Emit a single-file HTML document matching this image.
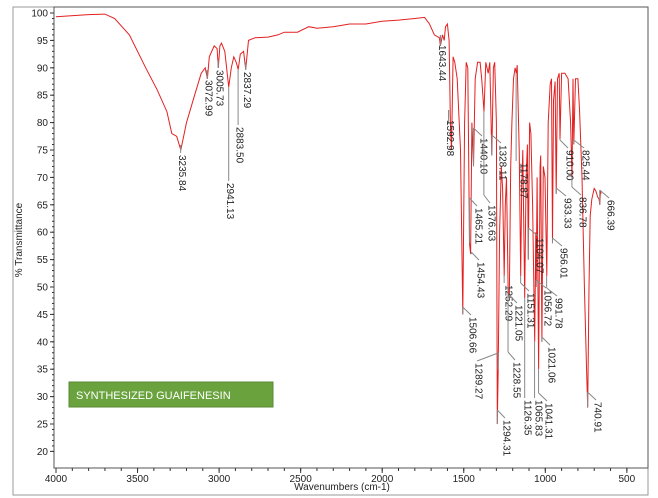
<!DOCTYPE html>
<html><head><meta charset="utf-8"><style>
body{margin:0;background:#fff;}
svg{display:block;font-family:"Liberation Sans",Arial,sans-serif;}
</style></head><body>
<svg id="s" width="658" height="498" xmlns="http://www.w3.org/2000/svg">
<rect x="13" y="7" width="635" height="488" fill="none" stroke="#999" stroke-width="1"/>
<rect x="54" y="7" width="594" height="461" fill="#fff" stroke="#555" stroke-width="1"/>
<text transform="translate(22,240) rotate(-90)" font-size="10" text-anchor="middle" fill="#222">% Transmittance</text>
<text x="342" y="490" font-size="10" text-anchor="middle" fill="#222">Wavenumbers (cm-1)</text>
<rect x="69" y="382" width="204" height="25" fill="#6aa33d" stroke="#5a8a33"/>
<text x="76" y="399" font-size="11" fill="#fff">SYNTHESIZED GUAIFENESIN</text>
<g id="g"></g>
</svg>
<script>
const X=w=>56+(4000-w)*0.1631, Y=t=>13+(100-t)*5.48;
const g=document.getElementById('g');let h='';
for(let t=20;t<=100;t+=5){h+=`<line x1="50" x2="54" y1="${Y(t)}" y2="${Y(t)}" stroke="#333"/><text x="48" y="${Y(t)+3.5}" font-size="10" text-anchor="end" fill="#222">${t}</text>`;}
for(let t=20;t<100;t+=1){h+=`<line x1="52" x2="54" y1="${Y(t)}" y2="${Y(t)}" stroke="#333"/>`;}
for(let w=4000;w>=500;w-=500){h+=`<line x1="${X(w)}" x2="${X(w)}" y1="468" y2="473" stroke="#333"/><text x="${X(w)}" y="482" font-size="10" text-anchor="middle" fill="#222">${w}</text>`;}
for(let w=3900;w>=500;w-=100){h+=`<line x1="${X(w)}" x2="${X(w)}" y1="468" y2="471" stroke="#333"/>`;}
const P=[[4000,99.3],[3800,99.7],[3700,99.8],[3640,99],[3550,96],[3450,90],[3380,86],[3320,82],[3290,78],[3260,77.5],[3235,75],[3200,80],[3150,85],[3110,89],[3085,90],[3072,88],[3060,92],[3030,94],[3012,93.5],[3005,90],[2995,94],[2985,94.5],[2965,93],[2941,86.5],[2925,90],[2910,92],[2895,91],[2883,89.7],[2870,92.5],[2850,93],[2837,89.7],[2820,95],[2780,95.5],[2700,95.6],[2640,96],[2600,96.5],[2520,96.5],[2450,97.5],[2400,97.2],[2300,97.5],[2200,98],[2100,98],[2000,98.5],[1900,98.7],[1800,99],[1740,99.2],[1710,98],[1680,96],[1650,95.5],[1643,94],[1630,96],[1620,95],[1612,97.5],[1600,98],[1590,95],[1582,80],[1575,75],[1565,92],[1555,91],[1540,88],[1520,75],[1506,45],[1495,80],[1485,91],[1475,90],[1465,58],[1458,56],[1450,80],[1440,72],[1430,88],[1415,91],[1400,91],[1390,88],[1376,82],[1365,91],[1350,89],[1340,91],[1328,74],[1318,90],[1310,91],[1300,80],[1294,25],[1289,35],[1280,60],[1270,72],[1262,68],[1252,52],[1245,65],[1238,70],[1228,50],[1221,48],[1212,72],[1205,80],[1195,88],[1185,90],[1178,89],[1172,90.5],[1160,75],[1151,52],[1145,68],[1138,75],[1126,48],[1118,70],[1110,76],[1104,55],[1096,80],[1088,78],[1078,65],[1065,40],[1058,60],[1056,50],[1050,70],[1041,35],[1032,72],[1028,74],[1021,40],[1012,72],[1002,70],[991,52],[982,80],[970,87],[962,88],[956,58],[950,84],[940,87.5],[933,67],[925,88],[915,89],[910,77],[900,89],[880,89],[860,88],[845,80],[836,70],[830,88],[825,76],[815,88],[800,88],[790,82],[775,70],[760,50],[748,36],[740,28],[732,50],[725,63],[715,66],[700,68],[690,67.5],[680,66.5],[670,66],[666,65],[662,67.5],[658,67]];
h+=`<polyline fill="none" stroke="#e32020" stroke-width="1" points="${P.map(p=>X(p[0]).toFixed(1)+','+Y(p[1]).toFixed(1)).join(' ')}"/>`;
const L=[[3235.84,75,155],[3072.99,88,80],[3005.73,90,70],[2941.13,86.5,183],[2883.50,89.7,127],[2837.29,89.7,72],[1643.44,94,45],[1592.98,80,120],[1506.66,45,317,471],[1465.21,58,208,477],[1454.43,56,262,479],[1440.10,72,138,482],[1376.63,82,205,490],[1328.11,74,145,501],[1294.31,25,420,505],[1289.27,35,363,477],[1252.29,52,285,507],[1228.55,50,362,515],[1221.05,48,305,517],[1178.87,89,163,522],[1151.31,52,293,529],[1126.35,48,400,526],[1104.07,55,238,538],[1065.83,40,400,537],[1056.72,50,290,546],[1041.31,35,403,547],[1021.06,40,347,550],[991.78,52,298,557],[956.01,58,248,562],[933.33,67,198,566],[910.00,77,150,568],[836.78,70,197,581],[825.44,76,150,584],[740.91,28,402,596],[666.39,65,200,609]];
for(const [w,t,ly,lx0] of L){const x=X(w),y=Y(t);const lx=lx0||x;
const ex=Math.abs(lx-x)<6?x:lx;
const my=Math.min(ly-10,Math.max(y,ly-10));
h+=`<line x1="${x}" x2="${x}" y1="${y}" y2="${my}" stroke="#888" stroke-width="1"/>`;
h+=`<line x1="${x}" x2="${ex}" y1="${my}" y2="${ly-2}" stroke="#888" stroke-width="1"/>`;
h+=`<text transform="translate(${lx-1.5},${ly}) rotate(90)" font-size="10" fill="#222">${w.toFixed(2)}</text>`;}
g.innerHTML=h;
</script>
</body></html>
